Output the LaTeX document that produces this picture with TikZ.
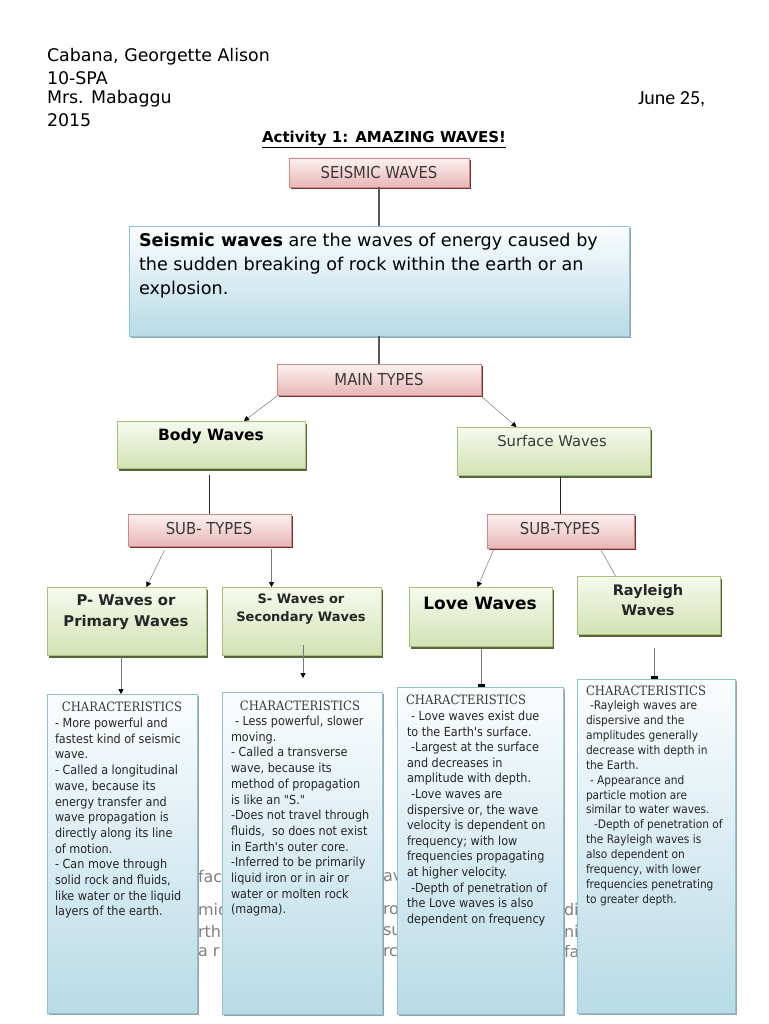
\documentclass[tikz,border=0pt]{standalone}
\usepackage{fontspec}
\setmainfont{DejaVu Sans}
\newfontfamily\condf{DejaVu Sans Condensed}
\newfontfamily\slabf{DejaVu Serif Condensed}
\newfontfamily\carlf{Carlito}
\usetikzlibrary{shadows,arrows.meta,calc}
\definecolor{pinkT}{HTML}{FDF1F1}
\definecolor{pinkB}{HTML}{E8B6B6}
\definecolor{pinkD}{HTML}{C98A8B}
\definecolor{pinkS}{HTML}{7A2E2E}
\definecolor{grnT}{HTML}{F6FAEE}
\definecolor{grnB}{HTML}{D3E2B4}
\definecolor{grnD}{HTML}{A9C17F}
\definecolor{grnS}{HTML}{56653A}
\definecolor{bluT}{HTML}{FBFDFE}
\definecolor{bluB}{HTML}{B8DBE7}
\definecolor{bluD}{HTML}{8FC3D3}
\definecolor{bluS}{HTML}{7E8E95}
\definecolor{lineg}{HTML}{7A7A7A}
\definecolor{txtg}{HTML}{3A3A3A}
\definecolor{fragg}{HTML}{808080}
\newcommand\bx[6]{\node[#6, minimum width={#4-#2}, minimum height={#5-#3}] (#1) at ({(#2+#4)/2},{(#3+#5)/2}) {};}
\begin{document}
\begin{tikzpicture}[x=1pt,y=-1pt,
  every node/.style={inner sep=0pt, outer sep=0pt},
  pinkbox/.style={draw=pinkD, line width=0.6pt, top color=pinkT, bottom color=pinkB,
    drop shadow={shadow xshift=1.5pt, shadow yshift=-2pt, fill=pinkS, opacity=1}},
  grnbox/.style={draw=grnD, line width=0.6pt, top color=grnT, bottom color=grnB,
    drop shadow={shadow xshift=2pt, shadow yshift=-2.5pt, fill=grnS, opacity=1}},
  blubox/.style={draw=bluD, line width=0.8pt, top color=bluT, bottom color=bluB,
    drop shadow={shadow xshift=2pt, shadow yshift=-2pt, fill=bluS, opacity=0.8}},
  hdr/.style={anchor=west, font=\fontsize{17.4}{20}\selectfont},
  frag/.style={anchor=west, text=fragg, font=\fontsize{16}{18}\selectfont},
  pinktxt/.style={text=txtg, font=\condf\fontsize{16.5}{18}\selectfont},
  chartitle/.style={font=\slabf\fontsize{12.9}{15}\selectfont, text=txtg},
  charbody/.style={anchor=north west, align=left, text=black!85, font=\condf\fontsize{12.5}{15.7}\selectfont},
  thick line/.style={draw=black!65, line width=1.3pt},
  conn/.style={draw=lineg, line width=0.5pt},
  arr/.style={conn, -{Triangle[length=5pt,width=5pt,color=black]}},
  tick/.style={conn, -{Rectangle[length=2pt,width=6pt,color=black]}}
]
\useasboundingbox[fill=white] (0,0) rectangle (768,1024);

% header
\node[hdr] (h1) at (47,57) {Cabana, Georgette Alison};
\node[hdr] (h2) at (47,78) {10-SPA};
\node[hdr] (h3) at (47,99) {Mrs. Mabaggu};
\node[hdr] (h4) at (47,120) {2015};
\node[anchor=west, font=\carlf\fontsize{20}{22}\selectfont] (date) at (638,99) {June 25,};
\node[font=\bfseries\fontsize{15}{17}\selectfont] (title) at (384,139) {\underline{Activity 1: AMAZING WAVES!}};

% fragments of text behind the characteristic boxes
\node[frag] (f1) at (198,877) {fac};
\node[frag] (f2) at (198,910) {mic};
\node[frag] (f3) at (198,931) {rth};
\node[frag] (f4) at (198,952) {a r};
\node[frag] (f5) at (383,877) {av};
\node[frag] (f6) at (383,910) {ro};
\node[frag] (f7) at (383,931) {su};
\node[frag] (f8) at (383,952) {rc};
\node[frag] (f9) at (564,910) {diu};
\node[frag] (f10) at (564,931) {ni};
\node[frag] (f11) at (564,952) {fa};

% boxes
\bx{seis}{289}{158}{469}{187}{pinkbox}
\bx{def}{129}{226}{629}{336}{blubox}
\bx{main}{277}{364}{481}{395}{pinkbox}
\bx{body}{117}{421}{305}{468}{grnbox}
\bx{surf}{457}{427}{650}{475}{grnbox}
\bx{subl}{128}{514}{291}{546}{pinkbox}
\bx{subr}{487}{514}{634}{548}{pinkbox}
\bx{pw}{47}{587}{206}{655}{grnbox}
\bx{sw}{222}{587}{381}{655}{grnbox}
\bx{love}{409}{587}{552}{646}{grnbox}
\bx{ray}{577}{576}{720}{634}{grnbox}
\bx{c1}{47}{694}{197}{1013}{blubox}
\bx{c2}{222}{692}{382}{1014}{blubox}
\bx{c3}{397}{687}{563}{1014}{blubox}
\bx{c4}{577}{679}{735}{1013}{blubox}

% box texts
\node[pinktxt] (tseis) at (379,172) {SEISMIC WAVES};
\node[anchor=north west, align=left, font=\fontsize{17.6}{24}\selectfont] (tdef) at (139,233)
  {\textbf{Seismic waves} are the waves of energy caused by\\
   the sudden breaking of rock within the earth or an\\
   explosion.};
\node[pinktxt] (tmain) at (379,379) {MAIN TYPES};
\node[font=\bfseries\fontsize{15.5}{18}\selectfont] (tbody) at (211,436) {Body Waves};
\node[font=\fontsize{14.8}{17}\selectfont, text=txtg] (tsurf) at (552,441) {Surface Waves};
\node[pinktxt] (tsubl) at (209,528) {SUB- TYPES};
\node[pinktxt] (tsubr) at (560,528) {SUB-TYPES};
\node[align=center, font=\bfseries\fontsize{14.8}{21}\selectfont, text=black!85] (tpw) at (126,612) {P- Waves or\\Primary Waves};
\node[align=center, font=\bfseries\fontsize{13}{18}\selectfont, text=black!85] (tsw) at (301,609) {S- Waves or\\Secondary Waves};
\node[font=\bfseries\fontsize{17}{20}\selectfont] (tlove) at (480,603) {Love Waves};
\node[align=center, font=\bfseries\fontsize{14.5}{20}\selectfont, text=black!85] (tray) at (648,600) {Rayleigh\\Waves};

% characteristics
\node[chartitle] (k1) at (122,707) {CHARACTERISTICS};
\node[charbody] (b1) at (55,718) {- More powerful and\\
fastest kind of seismic\\
wave.\\
- Called a longitudinal\\
wave, because its\\
energy transfer and\\
wave propagation is\\
directly along its line\\
of motion.\\
- Can move through\\
solid rock and fluids,\\
like water or the liquid\\
layers of the earth.};

\node[chartitle] (k2) at (300,706) {CHARACTERISTICS};
\node[charbody] (b2) at (231,716) {\hspace{4pt}- Less powerful, slower\\
moving.\\
- Called a transverse\\
wave, because its\\
method of propagation\\
is like an "S."\\
-Does not travel through\\
fluids,\ \ so does not exist\\
in Earth's outer core.\\
-Inferred to be primarily\\
liquid iron or in air or\\
water or molten rock\\
(magma).};

\node[chartitle, anchor=west] (k3) at (406,700) {CHARACTERISTICS};
\node[charbody, font=\condf\fontsize{12.5}{15.6}\selectfont] (b3) at (407,711) {\hspace{4pt}- Love waves exist due\\
to the Earth's surface.\\
\hspace{4pt}-Largest at the surface\\
and decreases in\\
amplitude with depth.\\
\hspace{4pt}-Love waves are\\
dispersive or, the wave\\
velocity is dependent on\\
frequency; with low\\
frequencies propagating\\
at higher velocity.\\
\hspace{4pt}-Depth of penetration of\\
the Love waves is also\\
dependent on frequency};

\node[chartitle, anchor=west] (k4) at (586,691) {CHARACTERISTICS};
\node[charbody, font=\condf\fontsize{11.8}{14.85}\selectfont] (b4) at (586,701) {\hspace{4pt}-Rayleigh waves are\\
dispersive and the\\
amplitudes generally\\
decrease with depth in\\
the Earth.\\
\hspace{4pt}- Appearance and\\
particle motion are\\
similar to water waves.\\
\hspace{8pt}-Depth of penetration of\\
the Rayleigh waves is\\
also dependent on\\
frequency, with lower\\
frequencies penetrating\\
to greater depth.};

% connectors
\draw[thick line] (seis.south) -- (def.north);
\draw[thick line] (def.south) -- (main.north);
\draw[arr] ([yshift=-1pt]main.south west) -- ([xshift=33pt]body.north);
\draw[arr] ([yshift=-1pt]main.south east) -- ([xshift=-37pt]surf.north);
\draw[draw=black!85, line width=1pt] ([yshift=-7pt]body.south -| subl.north) -- (subl.north);
\draw[draw=black!85, line width=1pt] ([yshift=-2pt]surf.south -| subr.north) -- (subr.north);
\draw[arr] ([xshift=-45pt,yshift=-4pt]subl.south) -- ([xshift=20pt]pw.north);
\draw[arr] ([xshift=62pt,yshift=-3pt]subl.south) -- ([xshift=-30pt]sw.north);
\draw[arr] ([xshift=-67pt,yshift=-2pt]subr.south) -- ([xshift=-3pt]love.north);
\draw[conn] ([xshift=40pt,yshift=-1pt]subr.south) -- ([xshift=-33pt]ray.north);
\draw[arr] ([xshift=-5.5pt,yshift=-2pt]pw.south) -- ([xshift=-1pt]c1.north);
\draw[arr] ([xshift=1.5pt,yshift=10pt]sw.south) -- ([xshift=1pt,yshift=14pt]c2.north);
\draw[tick] ([xshift=0.5pt,yshift=-3pt]love.south) -- ([xshift=1pt,yshift=1pt]c3.north);
\draw[tick] ([xshift=5.5pt,yshift=-14pt]ray.south) -- ([xshift=-2pt,yshift=1pt]c4.north);
\end{tikzpicture}
\end{document}
